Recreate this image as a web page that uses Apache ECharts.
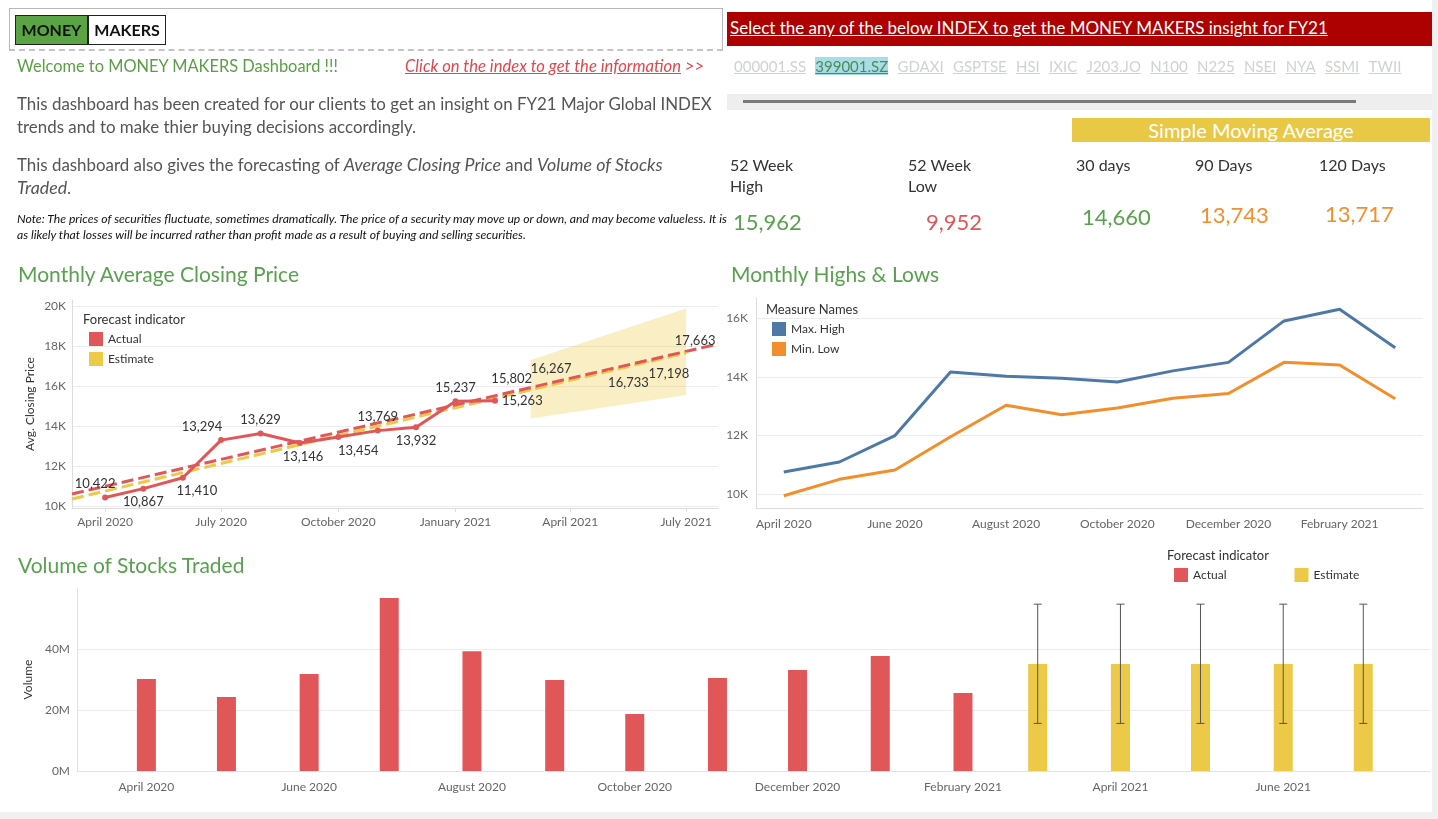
<!DOCTYPE html>
<html><head><meta charset="utf-8">
<script src="https://cdn.jsdelivr.net/npm/echarts@6/dist/echarts.min.js"></script>
<style>
html,body{margin:0;padding:0;background:#fff;}
body{width:1438px;height:819px;position:relative;overflow:hidden;font-family:Lato,'Noto Sans',sans-serif;}
#chart{position:absolute;left:0;top:0;width:1438px;height:819px;}
.t{position:absolute;white-space:nowrap;}
.title{position:absolute;color:#59a14f;font-size:21px;white-space:nowrap;}
.legt{position:absolute;font-size:13px;color:#333;white-space:nowrap;}
.idx span{margin-right:9.3px;text-decoration:underline;color:#cfd3d0;}
.kl{position:absolute;font-size:16px;color:#333;line-height:21px;}
.kv{position:absolute;font-size:22px;white-space:nowrap;}
</style></head><body>
<div style="position:absolute;left:0;top:812px;width:1438px;height:7px;background:#f0f0f0"></div>
<div style="position:absolute;left:1432px;top:0;width:6px;height:819px;background:#f0f0f0"></div>
<div id="chart"></div>

<div style="position:absolute;left:9px;top:8px;width:714px;height:43px;border:1px solid #b8b8b8;border-bottom:2px dashed #c4c4c4;box-sizing:border-box"></div>
<div class="t" style="left:15px;top:15px;width:73px;height:30px;background:#5ba446;border:1.5px solid #222;box-sizing:border-box;font-weight:bold;font-size:16px;line-height:27px;text-align:center;color:#111">MONEY</div>
<div class="t" style="left:88px;top:15px;width:78px;height:30px;background:#fff;border:1.5px solid #222;box-sizing:border-box;font-weight:bold;font-size:16px;line-height:27px;text-align:center;color:#111">MAKERS</div>

<div class="t" style="left:17px;top:56px;font-size:16.4px;color:#5a9e45">Welcome to MONEY MAKERS Dashboard !!!</div>
<div class="t" style="left:405px;top:56px;font-size:16.6px;color:#e0474c;font-style:italic"><u>Click on the index to get the information</u> &gt;&gt;</div>
<div class="t" style="left:17px;top:92px;font-size:16.9px;line-height:23px;color:#555">This dashboard has been created for our clients to get an insight on FY21 Major Global INDEX<br>trends and to make thier buying decisions accordingly.</div>
<div class="t" style="left:17px;top:153px;font-size:16.9px;line-height:23px;color:#555">This dashboard also gives the forecasting of <i style="font-size:17.8px">Average Closing Price</i> and <i style="font-size:17.8px">Volume of Stocks</i><br><i style="font-size:17.8px">Traded</i>.</div>
<div class="t" style="left:17px;top:211px;font-size:12.2px;line-height:16px;color:#111;font-style:italic">Note: The prices of securities fluctuate, sometimes dramatically. The price of a security may move up or down, and may become valueless. It is<br>as likely that losses will be incurred rather than profit made as a result of buying and selling securities.</div>

<div class="t" style="left:727px;top:12px;width:705px;height:34px;background:#ad0000"></div>
<div class="t" style="left:730px;top:17px;font-size:17px;color:#fff;text-decoration:underline">Select the any of the below INDEX to get the MONEY MAKERS insight for FY21</div>
<div class="t idx" id="idx" style="left:734px;top:56px;font-size:15px;line-height:20px"></div>
<div class="t" style="left:727px;top:94px;width:705px;height:16px;background:#eeeeee"></div>
<div class="t" style="left:743px;top:100px;width:613px;height:3px;background:#7a7a7a"></div>
<div class="t" style="left:1072px;top:118px;width:358px;height:24px;background:#e9c846;color:#fff;font-size:20px;line-height:24px;text-align:center">Simple Moving Average</div>

<div class="kl" style="left:730px;top:154px">52 Week<br>High</div>
<div class="kl" style="left:908px;top:154px">52 Week<br>Low</div>
<div class="kl" style="left:1076px;top:154px">30 days</div>
<div class="kl" style="left:1195px;top:154px">90 Days</div>
<div class="kl" style="left:1319px;top:154px">120 Days</div>
<div class="kv" id="kv1" style="left:733px;top:208px;color:#59a14f"></div>
<div class="kv" id="kv2" style="left:926px;top:208px;color:#e15759"></div>
<div class="kv" id="kv3" style="left:1082px;top:203px;color:#59a14f"></div>
<div class="kv" id="kv4" style="left:1200px;top:201px;color:#f28e2b"></div>
<div class="kv" id="kv5" style="left:1325px;top:200px;color:#f28e2b"></div>

<div class="title" style="left:18px;top:261px">Monthly Average Closing Price</div>
<div class="title" style="left:731px;top:261px">Monthly Highs &amp; Lows</div>
<div class="title" style="left:18px;top:552px">Volume of Stocks Traded</div>
<div class="legt" style="left:83px;top:311px">Forecast indicator</div>
<div class="legt" style="left:766px;top:301px">Measure Names</div>
<div class="legt" style="left:1167px;top:547px">Forecast indicator</div>

<script>
// ---------------- DATA ----------------
const indexList = ['000001.SS','399001.SZ','GDAXI','GSPTSE','HSI','IXIC','J203.JO','N100','N225','NSEI','NYA','SSMI','TWII'];
const selectedIndex = '399001.SZ';
const kpiValues = [15962, 9952, 14660, 13743, 13717];

// Monthly Average Closing Price
const priceMonths = ['2020-04','2020-05','2020-06','2020-07','2020-08','2020-09','2020-10','2020-11','2020-12','2021-01','2021-02'];
const priceActual = [10422,10867,11410,13294,13629,13146,13454,13769,13932,15237,15263];
const forecastMonths = ['2021-03','2021-04','2021-05','2021-06','2021-07'];
const priceEstimate = [15802,16267,16733,17198,17663];
const bandMonths = ['2021-03','2021-07'];
const bandLow = [14380,15550];
const bandHigh = [17300,19880];
const trendActualDates = ['2020-03-06','2021-07-26'];
const trendActual = [10600,18100];
const trendEstimateDates = ['2020-03-06','2021-07-01'];
const trendEstimate = [10350,17660];
const priceTicks = ['2020-04','2020-07','2020-10','2021-01','2021-04','2021-07'];

// Monthly Highs & Lows
const hlMonths = ['April 2020','May 2020','June 2020','July 2020','August 2020','September 2020','October 2020','November 2020','December 2020','January 2021','February 2021','March 2021'];
const maxHigh = [10760,11100,12000,14160,14020,13950,13820,14200,14490,15900,16300,14990];
const minLow = [9952,10510,10830,11960,13030,12710,12940,13270,13430,14490,14400,13250];

// Volume of Stocks Traded (millions)
const volMonths = ['2020-04','2020-05','2020-06','2020-07','2020-08','2020-09','2020-10','2020-11','2020-12','2021-01','2021-02'];
const volActual = [30.2,24.3,31.8,56.7,39.3,29.8,18.7,30.5,33.1,37.7,25.6];
const volEstMonths = ['2021-03','2021-04','2021-05','2021-06','2021-07'];
const volEstimate = [35.1,35.1,35.1,35.1,35.1];
const volEstLow = [15.6,15.6,15.6,15.6,15.6];
const volEstHigh = [54.7,54.7,54.7,54.7,54.7];
const volTicks = ['2020-04','2020-06','2020-08','2020-10','2020-12','2021-02','2021-04','2021-06'];

// label placement (not data)
const actualLabelPos = [['top',-10],['bottom',0],['bottom',14],['top',-19],['top',0],['bottom',3],['bottom',20],['top',0],['bottom',0],['top',0],['right',0]];
const estLabelPos = [['top',-19],['top',-19],['bottom',20],['bottom',21],['top',9]];

// --------------- TEXT ---------------
const idxEl = document.getElementById('idx');
indexList.forEach(n => {
  const s = document.createElement('span');
  s.textContent = n;
  if (n === selectedIndex) { s.style.background = '#a9dde6'; s.style.color = '#4d8a5b'; }
  idxEl.appendChild(s);
});
const fmt = v => Math.round(v).toLocaleString('en-US');
kpiValues.forEach((v,i) => document.getElementById('kv'+(i+1)).textContent = fmt(v));

// --------------- CHART ---------------
const ts = s => { const p = s.split('-').map(Number); return Date.UTC(p[0], p[1]-1, p[2]||1); };
const MONTHS = ['January','February','March','April','May','June','July','August','September','October','November','December'];
const dateLabel = v => { const d = new Date(v); return MONTHS[d.getUTCMonth()] + ' ' + d.getUTCFullYear(); };
const xMin = ts('2020-03-06'), xMax = ts('2021-07-26');

const RED = '#e15759', YEL = '#edc948', BLUE = '#4e79a7', ORG = '#f28e2b';
const axisLabelStyle = {color:'#666', fontSize:12, fontFamily:'Lato'};
const gridLine = {lineStyle:{color:'#ececec', width:1}};

const chart = echarts.init(document.getElementById('chart'));

const bandData = bandMonths.map((m,i) => [ts(m), bandLow[i], bandHigh[i]]);

chart.setOption({
  animation:false,
  textStyle:{fontFamily:'Lato'},
  grid:[
    {left:72, top:300, width:646, height:208},
    {left:756, top:298, width:667, height:210},
    {left:77, top:588, width:1353, height:183}
  ],
  legend:[
    {orient:'vertical', left:84, top:327, itemWidth:14, itemHeight:14, itemGap:6, icon:'rect', data:['Actual','Estimate'], textStyle:{fontSize:12, color:'#333'}, selectedMode:false},
    {orient:'vertical', left:767, top:317, itemWidth:14, itemHeight:14, itemGap:6, icon:'rect', data:['Max. High','Min. Low'], textStyle:{fontSize:12, color:'#333'}, selectedMode:false},
    {orient:'horizontal', left:1169, top:563, itemWidth:14, itemHeight:14, itemGap:68, icon:'rect', data:['Actual','Estimate'], textStyle:{fontSize:12, color:'#333'}, selectedMode:false}
  ],
  xAxis:[
    {type:'value', gridIndex:0, min:xMin, max:xMax, scale:true,
     axisLine:{lineStyle:{color:'#dcdcdc'}},
     axisTick:{show:true, customValues:priceTicks.map(ts), length:4, lineStyle:{color:'#dcdcdc'}},
     axisLabel:Object.assign({customValues:priceTicks.map(ts), formatter:dateLabel, margin:8}, axisLabelStyle),
     splitLine:{show:false}},
    {type:'category', gridIndex:1, data:hlMonths, boundaryGap:true,
     axisLine:{lineStyle:{color:'#dcdcdc'}},
     axisTick:{show:false},
     axisLabel:Object.assign({interval:1, margin:10}, axisLabelStyle),
     splitLine:{show:false}},
    {type:'value', gridIndex:2, min:xMin, max:xMax, scale:true,
     axisLine:{lineStyle:{color:'#e2e2e2'}},
     axisTick:{show:false, customValues:volTicks.map(ts)},
     axisLabel:Object.assign({customValues:volTicks.map(ts), formatter:dateLabel, margin:10}, axisLabelStyle),
     splitLine:{show:false}}
  ],
  yAxis:[
    {type:'value', gridIndex:0, min:9900, max:20300, minInterval:2000, maxInterval:2000,
     name:'Avg. Closing Price', nameLocation:'middle', nameGap:36, nameTextStyle:{fontSize:12, color:'#333'},
     axisLine:{show:true, lineStyle:{color:'#dcdcdc'}}, axisTick:{show:false},
     axisLabel:Object.assign({showMinLabel:false, showMaxLabel:false, margin:6, formatter:v=>(v/1000)+'K'}, axisLabelStyle),
     splitLine:Object.assign({showMinLine:false, showMaxLine:false}, gridLine)},
    {type:'value', gridIndex:1, min:9534, max:16680, minInterval:2000, maxInterval:2000,
     axisLine:{show:true, lineStyle:{color:'#dcdcdc'}}, axisTick:{show:false},
     axisLabel:Object.assign({showMinLabel:false, showMaxLabel:false, margin:8, formatter:v=>(v/1000)+'K'}, axisLabelStyle),
     splitLine:Object.assign({showMinLine:false, showMaxLine:false}, gridLine)},
    {type:'value', gridIndex:2, min:0, max:60, interval:20,
     name:'Volume', nameLocation:'middle', nameGap:40, nameTextStyle:{fontSize:12, color:'#333'},
     axisLine:{show:true, lineStyle:{color:'#e2e2e2'}}, axisTick:{show:false},
     axisLabel:Object.assign({showMaxLabel:false, margin:7, formatter:v=>v+'M'}, axisLabelStyle),
     splitLine:Object.assign({showMinLine:false, showMaxLine:false}, gridLine)}
  ],
  series:[
    {type:'custom', name:'band', xAxisIndex:0, yAxisIndex:0, z:1, silent:true,
     data:bandData,
     encode:{x:0, y:[1,2]},
     renderItem:(params, api) => {
       const i = params.dataIndex;
       if (i >= bandData.length-1) return null;
       const a = bandData[i], b = bandData[i+1];
       const pts = [api.coord([a[0],a[2]]), api.coord([b[0],b[2]]), api.coord([b[0],b[1]]), api.coord([a[0],a[1]])];
       return {type:'polygon', shape:{points:pts}, style:{fill:'rgba(237,201,72,0.32)'}};
     }},
    {type:'line', name:'trendEst', xAxisIndex:0, yAxisIndex:0, z:2, silent:true,
     data:trendEstimateDates.map((d,i)=>[ts(d), trendEstimate[i]]), symbol:'none',
     lineStyle:{color:YEL, width:3, type:[12,5]}},
    {type:'line', name:'trendAct', xAxisIndex:0, yAxisIndex:0, z:3, silent:true,
     data:trendActualDates.map((d,i)=>[ts(d), trendActual[i]]), symbol:'none',
     lineStyle:{color:RED, width:3, type:[12,5]}},
    {type:'line', name:'Estimate', xAxisIndex:0, yAxisIndex:0, z:4,
     data:forecastMonths.map((m,i)=>({value:[ts(m), priceEstimate[i]], label:{position:estLabelPos[i][0], offset:[estLabelPos[i][1],0]}})),
     symbol:'circle', symbolSize:2, itemStyle:{color:YEL}, lineStyle:{width:0},
     label:{show:true, formatter:p=>fmt(p.value[1]), fontSize:13, color:'#333', distance:4}},
    {type:'line', name:'Actual', xAxisIndex:0, yAxisIndex:0, z:5,
     data:priceMonths.map((m,i)=>({value:[ts(m), priceActual[i]], label:{position:actualLabelPos[i][0], offset:[actualLabelPos[i][1],0]}})),
     symbol:'circle', symbolSize:6, itemStyle:{color:RED}, lineStyle:{color:RED, width:3},
     label:{show:true, formatter:p=>fmt(p.value[1]), fontSize:13, color:'#333', distance:4}},

    {type:'line', name:'Max. High', xAxisIndex:1, yAxisIndex:1, data:maxHigh, symbol:'none', itemStyle:{color:BLUE}, lineStyle:{color:BLUE, width:3}},
    {type:'line', name:'Min. Low', xAxisIndex:1, yAxisIndex:1, data:minLow, symbol:'none', itemStyle:{color:ORG}, lineStyle:{color:ORG, width:3}},

    {type:'bar', name:'Actual', xAxisIndex:2, yAxisIndex:2, barWidth:19,
     data:volMonths.map((m,i)=>[ts(m), volActual[i]]), itemStyle:{color:RED}},
    {type:'bar', name:'Estimate', xAxisIndex:2, yAxisIndex:2, barWidth:19, barGap:'-100%',
     data:volEstMonths.map((m,i)=>[ts(m), volEstimate[i]]), itemStyle:{color:YEL}},
    {type:'custom', name:'errorbars', xAxisIndex:2, yAxisIndex:2, z:10, silent:true,
     data:volEstMonths.map((m,i)=>[ts(m), volEstLow[i], volEstHigh[i]]),
     encode:{x:0, y:[1,2]},
     renderItem:(params, api) => {
       const lo = api.coord([api.value(0), api.value(1)]);
       const hi = api.coord([api.value(0), api.value(2)]);
       const w = 4, st = {stroke:'#555', lineWidth:1};
       return {type:'group', children:[
         {type:'line', shape:{x1:lo[0], y1:lo[1], x2:hi[0], y2:hi[1]}, style:st},
         {type:'line', shape:{x1:hi[0]-w, y1:hi[1], x2:hi[0]+w, y2:hi[1]}, style:st},
         {type:'line', shape:{x1:lo[0]-w, y1:lo[1], x2:lo[0]+w, y2:lo[1]}, style:st}
       ]};
     }}
  ]
});
</script>
</body></html>
